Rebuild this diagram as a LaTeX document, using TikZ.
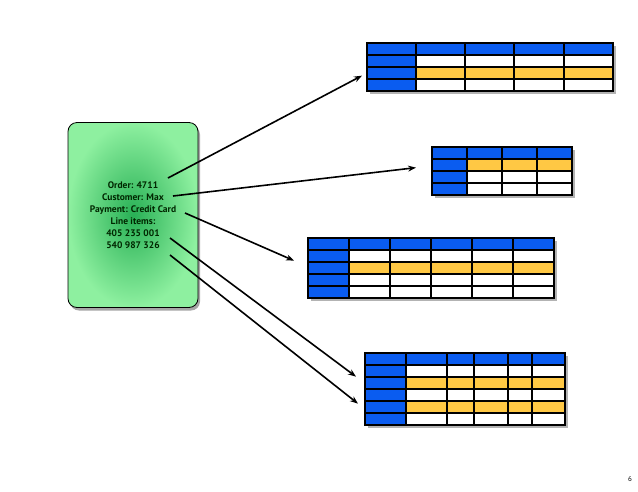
\documentclass[tikz,border=0pt]{standalone}
\usepackage{fontspec}
\setmainfont{PT Sans}
\usetikzlibrary{positioning, calc, shadows, arrows.meta}
\definecolor{keyblue}{HTML}{0A5CF0}
\definecolor{rowyellow}{HTML}{FFC844}
\definecolor{cardlight}{HTML}{8EF0A0}
\definecolor{carddark}{HTML}{28B055}
\tikzset{
    tab/.style = {
        rectangle, draw = black, fill = white, line width = 1.3pt,
        inner sep = 0pt, anchor = north west,
        drop shadow = {shadow xshift = 2pt, shadow yshift = -2pt, opacity = 0.6}
    },
    card/.style = {
        rectangle, rounded corners = 9pt, draw = black, line width = 0.8pt,
        minimum width = 130pt, minimum height = 185pt,
        inner color = carddark, outer color = cardlight,
        align = center, font = \fontsize{9.5}{12}\selectfont, text = black!75!green!60!black,
        drop shadow = {shadow xshift = 2pt, shadow yshift = -3pt, opacity = 0.7}
    },
    Arrow/.style = {-{Stealth[length=8pt, width=6pt]}, line width = 1.6pt}
}
% name, x, y, width, rows, key width, column lines, yellow rows
\newcommand{\dbtab}[8]{
    \node[tab, minimum width = #4pt, minimum height = #5*12pt] (#1) at (#2,#3) {};
    \begin{scope}[shift = {(#1.north west)}]
        \fill[keyblue] (0,0) rectangle (#6,#5*12);
        \fill[keyblue] (0,0) rectangle (#4,12);
        \foreach \r in {#8} {
            \fill[rowyellow] (#6,{(\r-1)*12}) rectangle (#4,{\r*12});
        }
        \foreach \r in {1,...,\numexpr#5-1\relax} {
            \draw[line width = 1.1pt] (0,{\r*12}) -- (#4,{\r*12});
        }
        \foreach \c in {#6,#7} {
            \draw[line width = 1.1pt] (\c,0) -- (\c,#5*12);
        }
        \draw[line width = 1.3pt] (0,0) rectangle (#4,#5*12);
    \end{scope}
}

\begin{document}
\begin{tikzpicture}[x = 1pt, y = -1pt]
\useasboundingbox (0,0) rectangle (638,491);

\node[card] (order) at (133,215) {
    \textbf{Order: 4711}\\
    \textbf{Customer: Max}\\
    \textbf{Payment: Credit Card}\\
    \textbf{Line items:}\\
    \textbf{405 235 001}\\
    \textbf{540 987 326}
};

\dbtab{orders}{367}{43}{246}{4}{49}{98,147,197}{3}
\dbtab{customers}{432}{147}{140}{4}{35}{70,105}{2}
\dbtab{payments}{308}{238}{246}{5}{41}{82,123,164,205}{3}
\dbtab{items}{365}{353}{200}{6}{41}{82,109,143,167}{3,5}

\coordinate (o1) at (168,178);
\coordinate (o2) at (173,196);
\coordinate (o3) at (185,213);
\coordinate (o4) at (170,238);
\coordinate (o5) at (170,255);

\draw[Arrow] (o1) -- ($(orders.west) + (-5,8)$);
\draw[Arrow] (o2) -- ($(customers.west) + (-16,-4)$);
\draw[Arrow] (o3) -- ($(payments.west) + (-14,-8)$);
\draw[Arrow] (o4) -- ($(items.west) + (-9,-13)$);
\draw[Arrow] (o5) -- ($(items.west) + (-7,14)$);

\node[font = \scriptsize] (page) at (630,479) {6};
\end{tikzpicture}
\end{document}
